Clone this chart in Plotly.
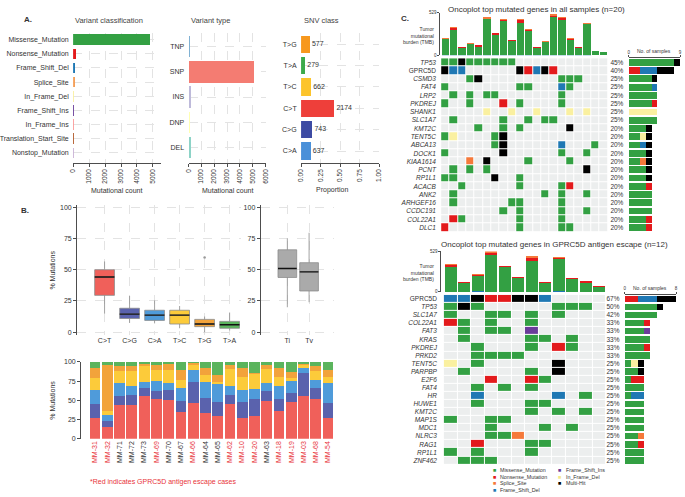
import plotly.graph_objects as go

W, H = 685, 497
def X(p): return p / W
def Y(p): return 1 - p / H

FONT = "Liberation Sans, Arial, sans-serif"
TXT = "#333333"
AXC = "#4d4d4d"
GRID = "#e3e3e3"

# ---------------- Panel A data ----------------
vc_classes = ["Missense_Mutation", "Nonsense_Mutation", "Frame_Shift_Del", "Splice_Site",
              "In_Frame_Del", "Frame_Shift_Ins", "In_Frame_Ins", "Translation_Start_Site",
              "Nonstop_Mutation"]
vc_counts = [4800, 185, 120, 85, 60, 40, 6, 4, 3]
vc_colors = ["#33A043", "#E31A1C", "#1F78B4", "#F5A05A", "#FAF0A0", "#6A3D9A",
             "#FB9A99", "#B15928", "#CAB2D6"]

vt_types = ["TNP", "SNP", "INS", "DNP", "DEL"]
vt_counts = [3, 5072, 160, 40, 210]
vt_colors = ["#80B1D3", "#F47C72", "#BEBADA", "#FFFFB3", "#8DD3C7"]

snv_classes = ["T>G", "T>A", "T>C", "C>T", "C>G", "C>A"]
snv_counts = [577, 279, 662, 2174, 743, 637]
snv_colors = ["#F7981D", "#3DAA4A", "#FCC42C", "#EE3F3A", "#3D4BA3", "#4A90D9"]

# ---------------- Panel B data ----------------
box_classes = ["C>T", "C>G", "C>A", "T>C", "T>G", "T>A"]
box_colors = ["#F0605A", "#5A62AD", "#4F9BDA", "#FCCB3A", "#F2A33B", "#5BB45D"]
box_low = [15, 7.4, 7.1, 3.2, 0, 1.3]
box_q1 = [29.5, 11, 9.5, 6.6, 4.5, 3.2]
box_med = [44.2, 14.5, 13.7, 13.7, 6.6, 6]
box_q3 = [50, 19.2, 17.6, 17.6, 10.3, 8.7]
box_high = [56.6, 29, 25.5, 21, 12.6, 15.8]
box_out_cls = ["T>G"]
box_out_val = [59.7]

titv_classes = ["Ti", "Tv"]
titv_low = [20, 24]
titv_q1 = [43.8, 33]
titv_med = [51, 48.3]
titv_q3 = [65.9, 55.6]
titv_high = [75, 79.5]

samples = ["MM-31", "MM-32", "MM-71", "MM-72", "MM-73", "MM-69", "MM-70", "MM-67", "MM-66", "MM-64",
           "MM-65", "MM-62", "MM-10", "MM-20", "MM-63", "MM-18", "MM-19", "MM-03", "MM-68", "MM-54"]
escape = [1, 1, 0, 0, 0, 1, 0, 0, 1, 0, 0, 1, 1, 1, 0, 1, 1, 1, 1, 1]
pct_CT = [27, 15, 44, 43.5, 55, 52, 50, 34.5, 46.5, 34, 29, 45, 27, 30, 49, 35.5, 47.5, 55.5, 52, 27]
pct_CG = [18, 8, 11, 13.5, 10.5, 10, 13, 14, 27.5, 19.5, 18.5, 12, 20.5, 21.5, 13, 16, 12.5, 29.5, 14.5, 19.5]
pct_CA = [18.5, 7.5, 18, 11, 8.5, 13, 9, 17, 16, 20.5, 23.5, 12, 16, 13, 11, 17.5, 15.5, 7.5, 10, 25.5]
pct_TC = [15, 5, 15, 20, 21, 14, 17, 10.5, 6.5, 9.5, 3, 21.5, 17, 20, 17.5, 11.5, 4, 4, 11.5, 8.5]
pct_TG = [13, 61, 6.5, 7, 3, 6.5, 8, 14, 2.5, 8, 9.5, 6, 11.5, 1, 5, 11, 7.5, 2, 7, 9.5]
pct_TA = [8.5, 3.5, 5.5, 5, 2, 4.5, 3, 10, 1, 8.5, 16.5, 3.5, 8, 14.5, 4.5, 8.5, 13, 1.5, 5, 10]

# ---------------- Panel C data ----------------
# codes: . none, M missense, N nonsense, S splice, D frame-shift del, I frame-shift ins, F in-frame del, H multi-hit
vtype_codes = ["M", "N", "S", "D", "I", "F", "H"]
vtype_names = ["Missense_Mutation", "Nonsense_Mutation", "Splice_Site", "Frame_Shift_Del",
               "Frame_Shift_Ins", "In_Frame_Del", "Multi-Hit"]
vtype_colors = ["#33A043", "#E31A1C", "#F5793A", "#1F78B4", "#6A3D9A", "#FAF0A0", "#000000"]
empty_color = "#ECEEEE"

top_genes = ["TP53", "GPRC5D", "CSMD3", "FAT4", "LRP2", "PKDREJ", "SHANK1", "SLC1A7", "KMT2C",
             "TENT5C", "ABCA13", "DOCK1", "KIAA1614", "PCNT", "RP1L1", "ACACB", "ANK2",
             "ARHGEF16", "CCDC191", "COL22A1", "DLC1"]
top_rows = ["MMHMMMMMM...........",
            "HDD......HNDHN......",
            "...MH.........MMM...",
            "M........MM...DM....",
            ".M.M.MM.......M.....",
            "M..M...N.M....M.....",
            ".....F..F..F...F.F..",
            ".M.....M..M.MM......",
            "....M..M.M.....H....",
            "MF....MH............",
            "......MH......D...M.",
            "M......H......M..M..",
            "...S.H....M....M....",
            ".M.M.M...........H..",
            "MM....H..M..........",
            "..M......M....MN....",
            ".M..........M.M..M..",
            ".M......MM....M.....",
            ".......M.M....M..M..",
            ".NM......M....M.....",
            "N........M....MM...."]
top_tmb_fsdel = [6, 5, 3, 3, 2, 6, 3, 8, 2, 4, 2, 2, 2, 4, 6, 3, 2, 6, 0, 0]
top_tmb_missense = [199, 314, 98, 140, 115, 450, 262, 424, 180, 397, 308, 99, 170, 469, 436, 197, 99, 386, 50, 42]
top_tmb_nonsense = [8, 30, 3, 8, 4, 8, 6, 10, 5, 45, 8, 3, 5, 30, 25, 6, 3, 8, 0, 0]
top_tmb_splice = [4, 5, 0, 3, 0, 3, 0, 4, 0, 4, 3, 0, 2, 18, 4, 2, 0, 4, 0, 0]

esc_genes = ["GPRC5D", "TP53", "SLC1A7", "COL22A1", "FAT3", "KRAS", "PKDREJ", "PRKD2", "TENT5C",
             "PARPBP", "E2F6", "FAT4", "HR", "HUWE1", "KMT2C", "MAP1S", "MDC1", "NLRC3", "RAG1",
             "RP1L1", "ZNF462"]
esc_rows = ["DDHNNHHD....",
            "MHM.....MMM.",
            "M..MM.M.M...",
            "NM.M..M.....",
            ".M.MM.I.....",
            ".M....MM.M..",
            "..M...M.NM..",
            "..MMMM......",
            "F.M.....H...",
            ".M....M.H...",
            "...N..NM....",
            "..M.M.M.....",
            "..D.....D.M.",
            "..M...MM....",
            "......M.M.M.",
            "M..MM.......",
            "...M...M.M..",
            "...MMS......",
            "..N...MM....",
            "M.M...M.....",
            ".MMM........"]
esc_tmb_fsdel = [5, 2, 6, 4, 3, 2, 4, 2, 8, 2, 2, 0]
esc_tmb_missense = [317, 111, 207, 477, 320, 176, 399, 111, 421, 162, 115, 59]
esc_tmb_nonsense = [30, 3, 8, 30, 8, 3, 45, 3, 10, 8, 8, 6]
esc_tmb_splice = [5, 0, 3, 18, 0, 0, 4, 0, 4, 0, 0, 0]
tmb_max = 529

fig = go.Figure()
ann = []

def note(text, px, py, size=7, xanchor="center", yanchor="middle", color=TXT, angle=0, align="center"):
    ann.append(dict(text=text, x=X(px), y=Y(py), xref="paper", yref="paper", showarrow=False,
                    xanchor=xanchor, yanchor=yanchor, textangle=angle, align=align,
                    font=dict(size=size, color=color, family=FONT)))

# ---------------- Panel A traces ----------------
fig.add_trace(go.Bar(x=vc_counts, y=vc_classes, orientation="h", width=0.75,
                     marker=dict(color=vc_colors, line_width=0), xaxis="x", yaxis="y", hoverinfo="skip"))
fig.add_trace(go.Bar(x=vt_counts, y=vt_types, orientation="h", width=0.85,
                     marker=dict(color=vt_colors, line_width=0), xaxis="x2", yaxis="y2", hoverinfo="skip"))
snv_total = sum(snv_counts)
snv_prop = [c / snv_total for c in snv_counts]
fig.add_trace(go.Bar(x=snv_prop, y=snv_classes, orientation="h", width=0.8,
                     marker=dict(color=snv_colors, line_width=0), xaxis="x3", yaxis="y3", hoverinfo="skip"))
fig.add_trace(go.Scatter(x=snv_prop, y=snv_classes, mode="text", text=[" " + str(c) for c in snv_counts],
                         textposition="middle right", textfont=dict(size=7, color=TXT),
                         xaxis="x3", yaxis="y3", cliponaxis=False, hoverinfo="skip"))

# ---------------- Panel B traces ----------------
def add_boxes(cats, lows, q1s, meds, q3s, highs, colors, width, xa, ya):
    mx, my = [], []
    for i in range(len(cats)):
        fig.add_trace(go.Box(x=[i], q1=[q1s[i]], median=[meds[i]], q3=[q3s[i]],
                             lowerfence=[lows[i]], upperfence=[highs[i]], width=width,
                             whiskerwidth=0,
                             fillcolor=colors[i], line=dict(color="#8c8c8c", width=0.8),
                             boxpoints=False, xaxis=xa, yaxis=ya, hoverinfo="skip"))
        mx += [i - width / 2, i + width / 2, None]
        my += [meds[i], meds[i], None]
    fig.add_trace(go.Scatter(x=mx, y=my, mode="lines", line=dict(color="#111111", width=1.4),
                             xaxis=xa, yaxis=ya, hoverinfo="skip"))

add_boxes(box_classes, box_low, box_q1, box_med, box_q3, box_high, box_colors, 0.79, "x4", "y4")
fig.add_trace(go.Scatter(x=[box_classes.index(c) for c in box_out_cls], y=box_out_val, mode="markers",
                         marker=dict(size=2.5, color="#999999"), xaxis="x4", yaxis="y4", hoverinfo="skip"))
add_boxes(titv_classes, titv_low, titv_q1, titv_med, titv_q3, titv_high, ["#AAAAAA", "#AAAAAA"],
          0.86, "x5", "y5")

for vals, col in zip([pct_CT, pct_CG, pct_CA, pct_TC, pct_TG, pct_TA], box_colors):
    fig.add_trace(go.Bar(x=samples, y=vals, width=0.88, marker=dict(color=col, line_width=0),
                         xaxis="x6", yaxis="y6", hoverinfo="skip"))

# ---------------- Panel C traces ----------------
code_index = {".": 0}
for k, c in enumerate(vtype_codes):
    code_index[c] = k + 1
all_cols = [empty_color] + vtype_colors
cscale = []
for k, c in enumerate(all_cols):
    cscale += [[k / len(all_cols), c], [(k + 1) / len(all_cols), c]]

def oncoplot(genes, rows, fsdel, mis, non, spl, xa, ya_tmb, ya_mat, xa_bar, ya_bar):
    n = len(rows[0])
    cols = list(range(n))
    for vals, col in zip([fsdel, mis, non, spl], ["#1F78B4", "#33A043", "#E31A1C", "#F5793A"]):
        fig.add_trace(go.Bar(x=cols, y=vals, width=0.88, marker=dict(color=col, line_width=0),
                             xaxis=xa, yaxis=ya_tmb, hoverinfo="skip"))
    z = [[code_index[ch] for ch in r] for r in rows]
    fig.add_trace(go.Heatmap(z=z, x=cols, y=genes, colorscale=cscale, zmin=-0.5,
                             zmax=len(all_cols) - 0.5, showscale=False, xgap=1, ygap=1,
                             xaxis=xa, yaxis=ya_mat, hoverinfo="skip"))
    for c, col in zip(vtype_codes, vtype_colors):
        cnt = [r.count(c) for r in rows]
        fig.add_trace(go.Bar(x=cnt, y=genes, orientation="h", width=0.82,
                             marker=dict(color=col, line_width=0), xaxis=xa_bar, yaxis=ya_bar,
                             hoverinfo="skip"))
    pcts = ["%d%%" % round(100 * sum(ch != "." for ch in r) / n) for r in rows]
    return pcts

top_pcts = oncoplot(top_genes, top_rows, top_tmb_fsdel, top_tmb_missense, top_tmb_nonsense,
                    top_tmb_splice, "x7", "y7", "y8", "x9", "y9")
esc_pcts = oncoplot(esc_genes, esc_rows, esc_tmb_fsdel, esc_tmb_missense, esc_tmb_nonsense,
                    esc_tmb_splice, "x10", "y10", "y11", "x12", "y12")

# ---------------- Layout ----------------
lay = dict(width=W, height=H, margin=dict(l=0, r=0, t=0, b=0), paper_bgcolor="white",
           plot_bgcolor="white", showlegend=False, barmode="stack",
           font=dict(family=FONT, size=7, color=TXT))

def xdom(a, b): return [X(a), X(b)]
def ydom(top, bottom): return [Y(bottom), Y(top)]

def a_x(dom, rng, tv, tt=None, anchor="y"):
    d = dict(domain=xdom(*dom), range=rng, tickvals=tv, tickangle=-90, showgrid=True,
             gridcolor=GRID, griddash="dash", gridwidth=0.5, showline=True, linecolor=AXC,
             linewidth=0.8, ticks="outside", ticklen=3, tickcolor=AXC,
             tickfont=dict(size=6.5, color=TXT), zeroline=False, anchor=anchor)
    if tt is not None:
        d["ticktext"] = tt
    return d

def a_y(dom, cats, rng, anchor):
    return dict(domain=ydom(*dom), type="category", categoryorder="array", categoryarray=cats,
                range=rng, showgrid=True, gridcolor=GRID, griddash="dash", gridwidth=0.5,
                ticks="outside", ticklen=2, tickcolor="rgba(0,0,0,0)",
                tickfont=dict(size=7, color=TXT), showline=False, zeroline=False, anchor=anchor)

lay["xaxis"] = a_x((68, 157), [0, 5500], [0, 1000, 2000, 3000, 4000, 5000], anchor="y")
lay["yaxis"] = a_y((29, 161), vc_classes, [8.7, -0.5], "x")
lay["xaxis2"] = a_x((185, 263), [0, 6000], [0, 1000, 2000, 3000, 4000, 5000, 6000], anchor="y2")
lay["yaxis2"] = a_y((29, 161), vt_types, [4.6, -0.55], "x2")
lay["xaxis3"] = a_x((299, 378), [0, 1], [0, 0.25, 0.5, 0.75, 1.0],
                    ["0.00", "0.25", "0.50", "0.75", "1.00"], anchor="y3")
lay["yaxis3"] = a_y((29, 161), snv_classes, [5.55, -0.55], "x3")

def b_x(dom, rng, cats, anchor):
    return dict(domain=xdom(*dom), range=rng, tickvals=list(range(len(cats))), ticktext=cats,
                showgrid=True, gridcolor=GRID, griddash="dash", gridwidth=0.5, showline=False,
                ticks="", zeroline=False, tickfont=dict(size=7, color=TXT), anchor=anchor)

def b_y(dom, rng, anchor, grid=True):
    return dict(domain=ydom(*dom), range=rng, tickvals=[0, 25, 50, 75, 100], showgrid=grid,
                gridcolor=GRID, griddash="dash", gridwidth=0.5, showline=True, linecolor=AXC,
                linewidth=0.8, ticks="outside", ticklen=3, tickcolor=AXC, zeroline=False,
                tickfont=dict(size=7, color=TXT), anchor=anchor)

lay["xaxis4"] = b_x((72, 238), [-1.1, 5.45], box_classes, "y4")
lay["yaxis4"] = b_y((203.5, 335.5), [-2, 102], "x4")
lay["xaxis5"] = b_x((258, 332), [-1.23, 2.13], titv_classes, "y5")
lay["yaxis5"] = b_y((203.5, 335.5), [-2, 102], "x5")

sample_text = ["<span style='color:%s'>%s</span>" % ("#E8333A" if e else "#333333", s)
               for s, e in zip(samples, escape)]
lay["xaxis6"] = dict(domain=xdom(76, 333), type="category", categoryorder="array",
                     categoryarray=samples, range=[-1.15, 19.54], tickvals=samples,
                     ticktext=sample_text, tickangle=-90, showgrid=False, showline=False,
                     ticks="", zeroline=False, tickfont=dict(size=7), anchor="y6")
lay["yaxis6"] = b_y((363, 441), [0, 100], "x6", grid=False)

def tmb_y(dom, anchor):
    return dict(domain=ydom(*dom), range=[0, tmb_max], tickvals=[0, tmb_max], showgrid=False,
                showline=True, linecolor=AXC, linewidth=0.6, ticks="outside", ticklen=2,
                tickcolor=AXC, tickfont=dict(size=4.5, color=TXT), zeroline=False, anchor=anchor)

def mat_y(dom, genes, anchor):
    tt = [g if g == "GPRC5D" else "<i>%s</i>" % g for g in genes]
    return dict(domain=ydom(*dom), type="category", categoryorder="array", categoryarray=genes,
                range=[len(genes) - 0.5, -0.5], tickvals=genes, ticktext=tt, showgrid=False,
                showline=False, zeroline=False, ticks="outside", ticklen=2,
                tickcolor="rgba(0,0,0,0)", tickfont=dict(size=6.5, color=TXT), anchor=anchor)

def bar_x(dom, mx, anchor):
    return dict(domain=xdom(*dom), range=[0, mx], tickvals=[0, mx], side="top", showgrid=False,
                showline=True, linecolor=AXC, linewidth=0.6, ticks="outside", ticklen=2,
                tickcolor=AXC, tickfont=dict(size=4.5, color=TXT), zeroline=False, anchor=anchor)

def bar_y(dom, genes, pcts, anchor):
    return dict(domain=ydom(*dom), type="category", categoryorder="array", categoryarray=genes,
                range=[len(genes) - 0.5, -0.5], tickvals=genes, ticktext=pcts, showgrid=False,
                showline=False, zeroline=False, ticks="outside", ticklen=3,
                tickcolor="rgba(0,0,0,0)", tickfont=dict(size=6.5, color=TXT), anchor=anchor)

lay["xaxis7"] = dict(domain=xdom(440, 610), range=[-0.62, 19.5], visible=False, anchor="y8")
lay["yaxis7"] = tmb_y((9, 52), "x7")
lay["yaxis8"] = mat_y((55, 231), top_genes, "x7")
lay["xaxis9"] = bar_x((631, 683), 9, "y9")
lay["yaxis9"] = bar_y((55, 231), top_genes, top_pcts, "x9")

lay["xaxis10"] = dict(domain=xdom(441, 608), range=[-0.7, 11.5], visible=False, anchor="y11")
lay["yaxis10"] = tmb_y((251, 292), "x10")
lay["yaxis11"] = mat_y((295, 467), esc_genes, "x10")
lay["xaxis12"] = bar_x((627, 679), 8, "y12")
lay["yaxis12"] = bar_y((295, 467), esc_genes, esc_pcts, "x12")

# ---------------- Annotations ----------------
note("<b>A.</b>", 16, 16, size=8, xanchor="left")
note("Variant classification", 68, 17, size=7.5, xanchor="left", color="#444444")
note("Variant type", 185, 17, size=7.5, xanchor="left", color="#444444")
note("SNV class", 300, 17, size=7.5, xanchor="left", color="#444444")
note("Mutational count", 112, 189, size=7)
note("Mutational count", 224, 189, size=7)
note("Proportion", 330, 189, size=7)
note("<b>B.</b>", 13, 209, size=8, xanchor="left")
note("% Mutations", 47, 270, size=7, angle=-90)
note("% Mutations", 47, 402, size=7, angle=-90)
note("*Red indicates GPRC5D antigen escape cases", 83, 485, size=7, xanchor="left", color="#E8333A")
note("<b>C.</b>", 404, 15, size=8, xanchor="center")
note("Oncoplot top mutated genes in all samples (n=20)", 538, 6, size=8)
note("Oncoplot top mutated genes in GPRC5D antigen escape (n=12)", 556, 244, size=8)
note("Tumor<br>mutational<br>burden (TMB)", 436, 32, size=5, xanchor="right", align="right")
note("Tumor<br>mutational<br>burden (TMB)", 436, 272, size=5, xanchor="right", align="right")
note("No. of samples", 657, 48, size=5)
note("No. of samples", 653, 288, size=5)

leg_pos = [(495, 473), (495, 479.5), (495, 486), (495, 492.5),
           (561, 473), (561, 479.5), (561, 486)]
leg_order = [0, 1, 2, 3, 4, 5, 6]
for (px, py), k in zip(leg_pos, leg_order):
    note("■", px, py, size=5.5, color=vtype_colors[k] if vtype_colors[k] != "#FAF0A0" else "#F5E88A")
    note(vtype_names[k], px + 4, py, size=5.3, xanchor="left")

lay["annotations"] = ann
fig.update_layout(**lay)
fig.write_html("out.html")
